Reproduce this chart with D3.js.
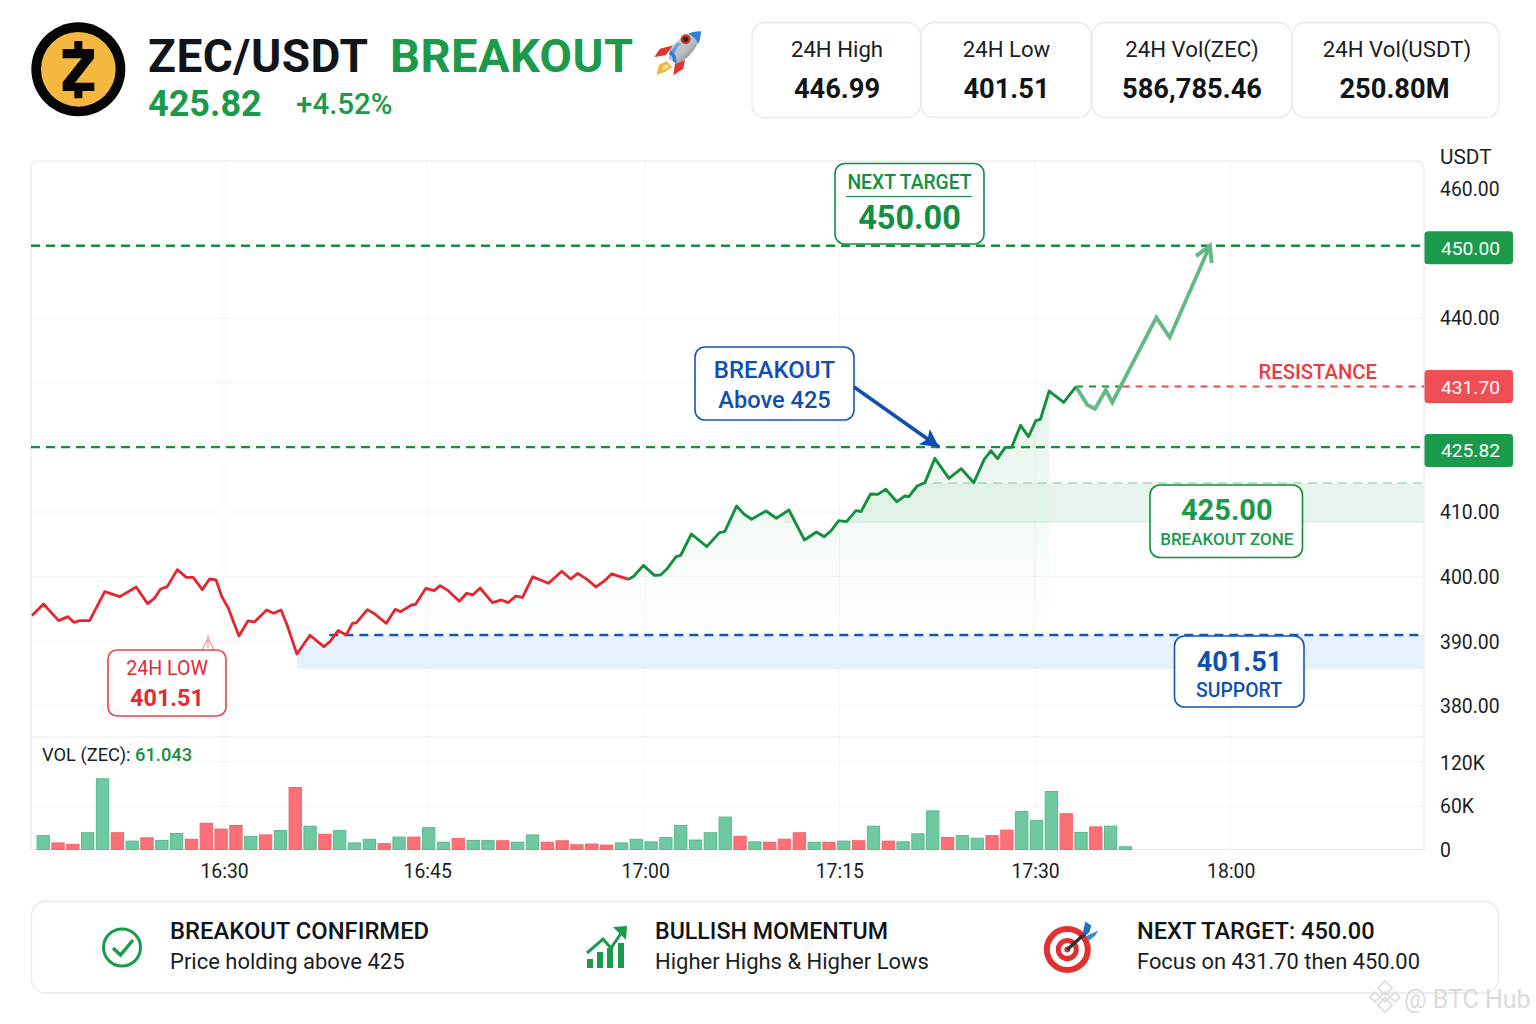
<!DOCTYPE html>
<html>
<head>
<meta charset="utf-8">
<script src="https://cdn.jsdelivr.net/npm/d3@7/dist/d3.min.js"></script>
<style>
html,body{margin:0;padding:0;background:#fff;}
svg{display:block;}
text{font-family:Roboto,"Liberation Sans",sans-serif;}
</style>
</head>
<body>
<svg id="chart" width="1536" height="1024"></svg>
<script>
// ---------- data ----------
const statLabels = ["24H High","24H Low","24H Vol(ZEC)","24H Vol(USDT)"];
const statValues = ["446.99","401.51","586,785.46","250.80M"];

const priceTicks = [380,390,400,410,440,460];
const gridPrices = [380,390,400,410,420,430,440];
const volTicks = [0,60,120];
const timeSlots = [12.2,25.9,40.6,53.7,66.9,80.1];
const timeLabels = ["16:30","16:45","17:00","17:15","17:30","18:00"];

// price path: slot (bar index position) and value as read on the axis
const redSlot = [-0.75,0.02,1.04,1.67,2.06,2.47,3.13,4.15,5.17,6.27,7.04,7.5,7.92,8.36,9.05,9.65,10.12,10.73,11.22,11.66,12.05,12.49,13.2,13.81,14.25,15.07,15.54,16.04,16.45,17.11,17.99,18.93,19.34,19.89,20.44,20.86,21.13,21.87,22.37,23.14,23.75,24.1,24.85,25.12,25.81,26.36,26.77,27.32,28.07,28.56,28.97,29.47,30.3,30.9,31.37,31.87,32.33,33.02,34.07,34.98,35.58,36.05,36.68,37.29,37.87,38.33,39.49];
const redPrice = [393.98,395.78,393.2,393.82,392.94,393.2,393.2,397.68,396.91,398.41,395.83,396.65,398.1,398.46,401.09,399.9,399.9,398,399.64,399.49,396.91,395.11,390.83,393.15,393,394.85,394.34,394.85,392.53,388.05,390.94,389.18,389.96,391.66,390.99,392.79,392.89,394.9,394.23,392.79,394.95,394.59,395.62,395.73,398.2,397.84,398.61,397.84,396.19,397.43,397.17,398.25,395.98,396.4,395.98,397.01,396.81,400,398.97,400.83,399.64,400.52,399.59,398.41,399.38,400.42,399.59];
const greenSlot = [39.49,39.85,40.48,41.23,41.64,42.05,42.69,43.0,43.72,44.76,45.61,45.97,46.77,47.26,47.78,48.76,49.45,50.3,51.34,52.16,52.68,53.14,53.66,54.18,54.82,55.16,55.8,56.29,56.83,57.58,58.12,58.38,58.95,59.47,60.14,61.09,61.92,62.77,63.47,63.93,64.37,64.88,65.32,65.92,66.46,66.95,67.26,67.85,68.83,69.66];
const greenPrice = [399.59,400.11,401.75,400.21,400.26,401.14,403.1,403.31,406.6,404.65,406.81,406.96,410.93,409.69,408.87,410.16,409.03,410.31,405.68,406.91,406.19,407.07,408.66,408.51,410.21,410.06,412.79,412.73,413.51,411.6,412.48,412.37,414.02,414.54,418.3,415.21,416.7,414.54,418.15,419.48,418.25,420,420,423.4,421.65,424.12,424.33,428.71,426.95,429.38];
const projSlot = [69.66,70.43,70.95,71.67,72.11,75.08,75.98,78.69];
const projPrice = [429.38,426.54,425.98,428.86,426.95,440.09,437,451.17];

// volume in thousands, and whether the bar is up (1) or down (0)
const volumes = [19,9,7,23,97,23,11.5,16,12.5,22,14,36,28,33,18,20,26,85,32,21,26,9,14,8,17,17,30,10,15,12.5,12.5,12,10,20,10,12,6.5,7.5,6,9,14,10.5,16.5,33,13,23,44.5,18,10.5,10,14,23,10,10,11.5,12,32,11.5,10.5,21.5,53,16.5,19,15.5,19,26.5,52,40,79.5,49,23.5,31,32,3.7];
const volumeUp = [1,0,0,1,1,0,1,0,1,1,0,0,0,0,1,0,1,0,1,0,1,1,1,0,1,0,1,1,0,1,1,0,1,1,0,0,0,0,0,1,1,1,1,1,1,1,1,0,1,0,0,0,1,0,1,0,1,0,1,1,1,0,1,1,0,0,1,1,1,0,1,0,1,1];

// where the horizontal levels sit against the printed axis, with the text they carry
const levelNames = ["target","resistance","resistanceStart","breakout","support"];
const levelAxisValues = [451.18,429.4,429.4,420.05,390.98];
const badgeAxisValues = [450.88,429.4,419.52];
const badgeTexts = ["450.00","431.70","425.82"];
const breakoutZone = [408.45,414.49];
const supportZone = [385.72,390.98];

const footerTitles = ["BREAKOUT CONFIRMED","BULLISH MOMENTUM","NEXT TARGET: 450.00"];
const footerLines = ["Price holding above 425","Higher Highs & Higher Lows","Focus on 431.70 then 450.00"];

// ---------- palette ----------
const GREEN="#12903f", LGREEN="#1a9a4a", RED="#e5262e", BLUE="#0f4fb0", INK="#111418", AXIS="#1b1e22", BORDER="#e4e9ef", GRID="#f2f4f6";

const svg = d3.select("#chart");
const defs = svg.append("defs");

// scales
const plotLeft=31, plotRight=1424, plotTop=161, plotBottom=850;
const x = d3.scaleLinear().domain([0,73]).range([43.2,1125.5]);
const y = d3.scaleLinear().domain([380,460]).range([706,188.7]);
const yVol = d3.scaleLinear().domain([0,120]).range([849.5,762]);
const xBand = d3.scaleBand().domain(d3.range(volumes.length)).range([x(-0.5),x(73.5)]).paddingInner(0.17).paddingOuter(0.085);

svg.append("rect").attr("width",1536).attr("height",1024).attr("fill","#fff");

// ---------- header ----------
const logo = svg.append("g").attr("transform","translate(25,15) scale(0.3333)");
logo.append("circle").attr("cx",160).attr("cy",163).attr("r",141).attr("fill","#050505");
logo.append("circle").attr("cx",160).attr("cy",163).attr("r",112).attr("fill","#f4b73f");
logo.append("path").attr("fill","#050505").attr("d","M148,78H172V102H207V130L150,203H208V228H172V250H148V228H113V202L170,130H113V102H148Z");

svg.append("text").attr("x",148).attr("y",72).attr("font-size",46).attr("font-weight",700).attr("textLength",220).attr("fill",INK).text("ZEC/USDT");
svg.append("text").attr("x",390).attr("y",72).attr("font-size",47).attr("font-weight",700).attr("textLength",243).attr("fill",LGREEN).text("BREAKOUT");
svg.append("text").attr("x",148).attr("y",116).attr("font-size",36).attr("font-weight",700).attr("fill",LGREEN).text("425.82");
svg.append("text").attr("x",296).attr("y",114).attr("font-size",29.5).attr("font-weight",500).attr("fill",LGREEN).text("+4.52%");

// rocket
const bodyGrad = defs.append("linearGradient").attr("id","rocketBody").attr("x1","0").attr("y1","0").attr("x2","1").attr("y2","1");
bodyGrad.append("stop").attr("offset","0").attr("stop-color","#dfe1e5");
bodyGrad.append("stop").attr("offset","0.55").attr("stop-color","#b9bdc4");
bodyGrad.append("stop").attr("offset","1").attr("stop-color","#565a61");
const rocket = svg.append("g").attr("transform","translate(645,22) scale(0.3333)");
rocket.append("path").attr("fill","#e2342d").attr("d","M28,105L45,80L85,70L62,100Z");
rocket.append("path").attr("fill","#e2342d").attr("d","M85,160L90,125L120,113L115,140Z");
rocket.append("path").attr("fill","#f6b23a").attr("d","M35,158L42,128L65,118L82,135L60,150Z");
rocket.append("path").attr("fill","#fbe39a").attr("d","M50,146L55,130L68,127L72,136Z");
rocket.append("path").attr("fill","url(#rocketBody)").attr("d","M168,28C140,28 95,45 75,85L70,110L95,125C130,115 165,70 168,28Z");
rocket.append("path").attr("fill","#2f80d8").attr("d","M168,28C155,28 143,30 130,35C145,42 155,52 160,66C165,52 168,40 168,28Z");
rocket.append("path").attr("fill","#2f80d8").attr("d","M75,85C85,88 96,100 95,125L84,118C84,105 78,98 72,98Z");
rocket.append("path").attr("fill","#3f8fe0").attr("opacity",0.75).attr("d","M98,62C90,70 82,80 78,88L88,96C92,84 98,74 108,64Z");
rocket.append("circle").attr("cx",122).attr("cy",52).attr("r",15).attr("fill","#c43a2c");
rocket.append("circle").attr("cx",122).attr("cy",52).attr("r",8).attr("fill","#33221f");

// stat cards
const cardEdges = [[752,920.5],[921,1091],[1092,1291.5],[1292,1499]];
const cardTextX = [837,1006.5,1192,1397];
const cards = svg.append("g").selectAll("g").data(statLabels).join("g");
cards.append("rect").attr("x",(d,i)=>cardEdges[i][0]).attr("y",22.5).attr("width",(d,i)=>cardEdges[i][1]-cardEdges[i][0]).attr("height",95).attr("rx",13).attr("fill","#fff").attr("stroke",BORDER).attr("stroke-width",1.3);
cards.append("text").attr("x",(d,i)=>cardTextX[i]).attr("y",57).attr("text-anchor","middle").attr("font-size",22.2).attr("fill",AXIS).text(d=>d);
cards.append("text").attr("x",(d,i)=>cardTextX[i]-(i===3?2.5:0)).attr("y",98).attr("text-anchor","middle").attr("font-size",27.3).attr("font-weight",700).attr("fill",INK).text((d,i)=>statValues[i]);

// ---------- plot frame and grid ----------
svg.append("path").attr("fill","none").attr("stroke",BORDER).attr("stroke-width",1.2)
  .attr("d",`M${plotLeft},${plotBottom}V${plotTop+8}Q${plotLeft},${plotTop} ${plotLeft+8},${plotTop}H${plotRight-8}Q${plotRight},${plotTop} ${plotRight},${plotTop+8}V${plotBottom}`);
const grid = svg.append("g").attr("stroke",GRID).attr("stroke-width",1);
grid.selectAll("line.h").data(gridPrices).join("line").attr("x1",plotLeft).attr("x2",plotRight).attr("y1",d=>y(d)).attr("y2",d=>y(d));
grid.selectAll("line.v").data(timeSlots).join("line").attr("x1",d=>x(d)).attr("x2",d=>x(d)).attr("y1",plotTop).attr("y2",plotBottom);
grid.selectAll("line.vv").data([60,120]).join("line").attr("x1",plotLeft).attr("x2",plotRight).attr("y1",d=>yVol(d)).attr("y2",d=>yVol(d));
svg.append("line").attr("x1",plotLeft).attr("x2",plotRight).attr("y1",737).attr("y2",737).attr("stroke","#e9edf1");
svg.append("line").attr("x1",plotLeft).attr("x2",plotRight).attr("y1",yVol(0)).attr("y2",yVol(0)).attr("stroke",BORDER);

// ---------- zones, clipped to the part under the price path ----------
const allSlot = redSlot.concat(greenSlot.slice(1));
const allPrice = redPrice.concat(greenPrice.slice(1));
const series = allSlot.map((s,i)=>({s,p:allPrice[i]}));
const areaUnder = d3.area().x(d=>x(d.s)).y0(800).y1(d=>y(d.p));

const clip = defs.append("clipPath").attr("id","underPrice");
clip.append("path").attr("d",areaUnder(series.filter(d=>d.s<=67.85)));
clip.append("rect").attr("x",x(67.85)).attr("y",0).attr("width",plotRight-x(67.85)).attr("height",800);

const areaGrad = defs.append("linearGradient").attr("id","areaFade").attr("gradientUnits","userSpaceOnUse").attr("x1",0).attr("x2",0).attr("y1",y(424)).attr("y2",y(391));
areaGrad.append("stop").attr("offset","0").attr("stop-color","#2ea35a").attr("stop-opacity",0.11);
areaGrad.append("stop").attr("offset","1").attr("stop-color","#2ea35a").attr("stop-opacity",0);
const areaFill = d3.area().x(d=>x(d.s)).y0(y(391)).y1(d=>y(d.p));
svg.append("path").attr("fill","url(#areaFade)").attr("d",areaFill(series.filter(d=>d.s>=24&&d.s<=67.85)));

const zones = svg.append("g").attr("clip-path","url(#underPrice)");
zones.append("rect").attr("x",x(17.11)).attr("width",plotRight-x(17.11)).attr("y",y(supportZone[1])).attr("height",y(supportZone[0])-y(supportZone[1])).attr("fill","#e7f1fb");
zones.append("rect").attr("x",x(50)).attr("width",plotRight-x(50)).attr("y",y(breakoutZone[1])).attr("height",y(breakoutZone[0])-y(breakoutZone[1])).attr("fill","#e7f4eb");
zones.append("rect").attr("x",x(50)).attr("width",x(67.85)-x(50)).attr("y",y(breakoutZone[1])).attr("height",y(breakoutZone[0])-y(breakoutZone[1])).attr("fill","#2ea35a").attr("opacity",0.03);
zones.append("line").attr("x1",x(50)).attr("x2",plotRight).attr("y1",y(breakoutZone[0])).attr("y2",y(breakoutZone[0])).attr("stroke","#d3ead9");
zones.append("line").attr("x1",x(59)).attr("x2",plotRight).attr("y1",y(breakoutZone[1])).attr("y2",y(breakoutZone[1])).attr("stroke","#a9d8ba").attr("stroke-dasharray","9 6").attr("stroke-width",1.5);

// ---------- level lines ----------
const levelStyle = {
  target:{x1:plotLeft,x2:plotRight,c:GREEN,w:2.3,dash:"9 6"},
  resistance:{x1:x(72.8),x2:plotRight,c:"#ef4a50",w:1.9,dash:"7 6"},
  resistanceStart:{x1:x(69.66),x2:x(72.8),c:GREEN,w:1.9,dash:"7 6"},
  breakout:{x1:plotLeft,x2:plotRight,c:GREEN,w:2.3,dash:"9 6"},
  support:{x1:x(19.3),x2:plotRight,c:"#1557b8",w:2.3,dash:"9 6"}
};
svg.append("g").selectAll("line").data(levelNames).join("line")
  .attr("x1",d=>levelStyle[d].x1).attr("x2",d=>levelStyle[d].x2)
  .attr("y1",(d,i)=>y(levelAxisValues[i])).attr("y2",(d,i)=>y(levelAxisValues[i]))
  .attr("stroke",d=>levelStyle[d].c).attr("stroke-width",d=>levelStyle[d].w).attr("stroke-dasharray",d=>levelStyle[d].dash);

// ---------- price path ----------
const line = d3.line().x(d=>x(d.s)).y(d=>y(d.p));
const zipped = (a,b)=>a.map((s,i)=>({s,p:b[i]}));
defs.append("marker").attr("id","projHead").attr("markerUnits","userSpaceOnUse").attr("orient","auto").attr("markerWidth",40).attr("markerHeight",40).attr("refX",20).attr("refY",20).attr("viewBox","0 0 40 40")
  .append("path").attr("d","M5,11.5L20,20L5,28.5").attr("fill","none").attr("stroke","#63b887").attr("stroke-width",4);
svg.append("path").attr("d",line(zipped(projSlot,projPrice))).attr("fill","none").attr("stroke","#63b887").attr("stroke-width",3.8).attr("stroke-linejoin","miter").attr("marker-end","url(#projHead)");
svg.append("path").attr("d",line(zipped(redSlot,redPrice))).attr("fill","none").attr("stroke",RED).attr("stroke-width",2.8).attr("stroke-linejoin","round");
svg.append("path").attr("d",line(zipped(greenSlot,greenPrice))).attr("fill","none").attr("stroke",GREEN).attr("stroke-width",2.9).attr("stroke-linejoin","round");

// ---------- volume bars ----------
svg.append("g").selectAll("rect").data(volumes).join("rect")
  .attr("x",(d,i)=>xBand(i)).attr("width",xBand.bandwidth())
  .attr("y",d=>yVol(d)).attr("height",d=>yVol(0)-yVol(d))
  .attr("fill",(d,i)=>volumeUp[i]?"#6ec9a0":"#fb7077")
  .attr("stroke",(d,i)=>volumeUp[i]?"#5bb98d":"#f2646b").attr("stroke-width",1);

const volLabel = svg.append("text").attr("x",42).attr("y",761).attr("font-size",18.3).attr("fill",AXIS);
volLabel.append("tspan").text("VOL (ZEC): ");
volLabel.append("tspan").attr("fill",GREEN).attr("font-weight",500).text("61.043");

// ---------- axes ----------
function styleAxis(g){
  g.select(".domain").remove();
  g.selectAll(".tick line").remove();
  g.selectAll("text").attr("font-family","Roboto").attr("font-size",19.4).attr("fill",AXIS);
}
svg.append("g").attr("transform","translate(1440,0.6)")
  .call(d3.axisRight(y).tickValues(priceTicks).tickSize(0).tickPadding(0).tickFormat(d3.format(".2f"))).call(styleAxis);
svg.append("g").attr("transform","translate(1440,1)")
  .call(d3.axisRight(yVol).tickValues(volTicks).tickSize(0).tickPadding(0).tickFormat(d=>d===0?"0":d+"K")).call(styleAxis);
svg.append("g").attr("transform","translate(0,860)")
  .call(d3.axisBottom(x).tickValues(timeSlots).tickSize(0).tickPadding(4).tickFormat((d,i)=>timeLabels[i])).call(styleAxis);
svg.append("text").attr("x",1440).attr("y",164).attr("font-size",20.8).attr("fill",AXIS).text("USDT");

// price badges
const badgeColors=[LGREEN,"#f04e55",LGREEN];
const badges = svg.append("g").selectAll("g").data(badgeTexts).join("g")
  .attr("transform",(d,i)=>`translate(1424.5,${y(badgeAxisValues[i])})`);
badges.append("rect").attr("x",0).attr("y",-16.5).attr("width",88.5).attr("height",33).attr("rx",3.5).attr("fill",(d,i)=>badgeColors[i]);
badges.append("text").attr("x",46).attr("y",7).attr("text-anchor","middle").attr("font-size",19.2).attr("fill","#fff").text(d=>d);

svg.append("text").attr("x",1377).attr("y",379).attr("text-anchor","end").attr("font-size",20.3).attr("font-weight",500).attr("fill","#ea3a42").text("RESISTANCE");

// ---------- callouts ----------
function box(x0,y0,x1,y1,color,r){
  svg.append("rect").attr("x",x0).attr("y",y0).attr("width",x1-x0).attr("height",y1-y0).attr("rx",r||9).attr("fill","#fff").attr("stroke",color).attr("stroke-width",1.6);
}
function label(cx,by,size,weight,color,txt){
  svg.append("text").attr("x",cx).attr("y",by).attr("text-anchor","middle").attr("font-size",size).attr("font-weight",weight).attr("fill",color).text(txt);
}
box(835,163.5,984,244,GREEN,10);
label(909.5,189,19.3,500,GREEN,"NEXT TARGET");
svg.append("line").attr("x1",846).attr("x2",972).attr("y1",196.5).attr("y2",196.5).attr("stroke",GREEN).attr("stroke-width",1.2);
label(909.5,229,32.5,700,GREEN,"450.00");

box(695,347,854,420,"#1557b8",10);
label(774.5,378,24,500,BLUE,"BREAKOUT");
label(774.5,408,23.6,500,BLUE,"Above 425");

defs.append("marker").attr("id","blueHead").attr("markerUnits","userSpaceOnUse").attr("orient","auto").attr("markerWidth",30).attr("markerHeight",30).attr("refX",20).attr("refY",15).attr("viewBox","0 0 30 30")
  .append("path").attr("d","M20,15L2,5.5L6,15L2,24.5Z").attr("fill",BLUE);
svg.append("line").attr("x1",854).attr("y1",387).attr("x2",939).attr("y2",y(420.05)).attr("stroke",BLUE).attr("stroke-width",3.6).attr("marker-end","url(#blueHead)");

svg.append("path").attr("d","M208,635L208,648M208,638L202,650M208,638L214,650").attr("stroke","#f2a3a6").attr("stroke-width",1.4).attr("fill","none");
box(108,650,226,716,"#e8434a",9);
label(167,675,19.6,400,"#e22b33","24H LOW");
label(167,706,23.4,700,"#e22b33","401.51");

box(1150,485,1302.5,557.5,GREEN,10);
label(1226.8,520,29,700,LGREEN,"425.00");
label(1226.8,545,17,500,LGREEN,"BREAKOUT ZONE");

box(1174.5,636,1304,707,"#1557b8",10);
label(1239.5,671,27,700,BLUE,"401.51");
label(1239,697,19.4,500,BLUE,"SUPPORT");

// ---------- footer ----------
svg.append("rect").attr("x",31.5).attr("y",901.5).attr("width",1467).attr("height",91.5).attr("rx",14).attr("fill","#fff").attr("stroke",BORDER).attr("stroke-width",1.3);
const footerX=[170,655,1137];
const foot = svg.append("g").selectAll("g").data(footerTitles).join("g");
foot.append("text").attr("x",(d,i)=>footerX[i]).attr("y",939).attr("font-size",(d,i)=>[23.8,23.2,23.6][i]).attr("font-weight",500).attr("fill",INK).text(d=>d);
foot.append("text").attr("x",(d,i)=>footerX[i]).attr("y",969).attr("font-size",(d,i)=>[22,22,21.9][i]).attr("fill",AXIS).text((d,i)=>footerLines[i]);

// check icon
svg.append("circle").attr("cx",122).attr("cy",947.5).attr("r",18.5).attr("fill","none").attr("stroke",LGREEN).attr("stroke-width",3);
svg.append("path").attr("d","M113,948L120.5,955L133,940").attr("fill","none").attr("stroke",LGREEN).attr("stroke-width",3.4);
// momentum icon
const mom = svg.append("g").attr("fill",LGREEN);
[[587,959],[597,952],[607,948],[618,943]].forEach(b=>mom.append("rect").attr("x",b[0]).attr("y",b[1]).attr("width",6).attr("height",968-b[1]));
svg.append("path").attr("d","M587,953L603,939L611,948L622,932").attr("fill","none").attr("stroke",LGREEN).attr("stroke-width",3);
mom.append("path").attr("d","M613,927L627,926L626,940Z");
// target icon
const tgt = svg.append("g").attr("transform","translate(1067.3,949.5)");
[[23.5,"#e0302f"],[17.5,"#fff"],[11.5,"#e0302f"],[6.5,"#fff"],[3,"#e0302f"]].forEach(c=>tgt.append("circle").attr("r",c[0]).attr("fill",c[1]));
tgt.append("line").attr("x1",0).attr("y1",0).attr("x2",20).attr("y2",-18).attr("stroke","#2c2f33").attr("stroke-width",3.2);
tgt.append("path").attr("fill","#1f6fc4").attr("d","M15,-14L18,-28L24,-24L22,-17Z");
tgt.append("path").attr("fill","#3b8ad8").attr("d","M18,-13L31,-19L28,-14L22,-9Z");

// watermark
const wm = svg.append("g").attr("fill","none").attr("stroke","#e0e0e0").attr("stroke-width",2);
[[1385,988,5],[1375,997,3.5],[1395,997,3.5],[1385,1005,5],[1385,997,3.5]].forEach(d=>{
  wm.append("rect").attr("x",d[0]-d[2]).attr("y",d[1]-d[2]).attr("width",d[2]*2).attr("height",d[2]*2).attr("transform",`rotate(45 ${d[0]} ${d[1]})`);
});
svg.append("text").attr("x",1404).attr("y",1008).attr("font-size",25).attr("fill","#dadada").text("@ BTC Hub");
</script>
</body>
</html>
